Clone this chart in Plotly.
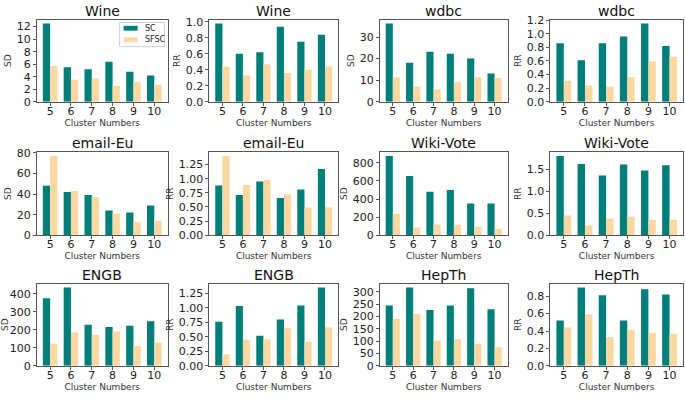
import plotly.graph_objects as go

clusters = ["5", "6", "7", "8", "9", "10"]
series_names = ["SC", "SFSC"]

wine_sd_sc = [12.5, 5.5, 5.2, 6.4, 4.8, 4.2]
wine_sd_sfsc = [5.7, 3.5, 3.7, 2.5, 3.1, 2.7]
wine_rr_sc = [0.98, 0.60, 0.62, 0.94, 0.75, 0.84]
wine_rr_sfsc = [0.44, 0.33, 0.47, 0.36, 0.40, 0.44]

wdbc_sd_sc = [36.3, 18.1, 23.2, 22.2, 20.0, 13.1]
wdbc_sd_sfsc = [11.4, 7.0, 5.7, 9.1, 11.4, 11.0]
wdbc_rr_sc = [0.86, 0.61, 0.86, 0.96, 1.15, 0.82]
wdbc_rr_sfsc = [0.31, 0.24, 0.22, 0.36, 0.59, 0.66]

email_sd_sc = [48, 42, 39, 24, 22, 29]
email_sd_sfsc = [77, 43, 37, 21, 13, 14]
email_rr_sc = [0.88, 0.71, 0.95, 0.66, 0.81, 1.17]
email_rr_sfsc = [1.40, 0.89, 0.98, 0.72, 0.49, 0.49]

wiki_sd_sc = [875, 655, 480, 500, 350, 350]
wiki_sd_sfsc = [235, 85, 120, 115, 95, 70]
wiki_rr_sc = [1.80, 1.62, 1.36, 1.61, 1.47, 1.59]
wiki_rr_sfsc = [0.45, 0.22, 0.38, 0.42, 0.35, 0.35]

engb_sd_sc = [375, 435, 228, 215, 222, 248]
engb_sd_sfsc = [123, 185, 173, 190, 110, 130]
engb_rr_sc = [0.76, 1.03, 0.52, 0.80, 1.04, 1.35]
engb_rr_sfsc = [0.20, 0.45, 0.46, 0.65, 0.41, 0.66]

hepth_sd_sc = [245, 318, 227, 245, 315, 230]
hepth_sd_sfsc = [190, 210, 103, 108, 90, 75]
hepth_rr_sc = [0.52, 0.90, 0.81, 0.52, 0.88, 0.82]
hepth_rr_sfsc = [0.44, 0.59, 0.33, 0.41, 0.38, 0.37]

panels = [
    ("Wine", "SD", wine_sd_sc, wine_sd_sfsc, 2, ".0f"),
    ("Wine", "RR", wine_rr_sc, wine_rr_sfsc, 0.2, ".1f"),
    ("wdbc", "SD", wdbc_sd_sc, wdbc_sd_sfsc, 10, ".0f"),
    ("wdbc", "RR", wdbc_rr_sc, wdbc_rr_sfsc, 0.2, ".1f"),
    ("email-Eu", "SD", email_sd_sc, email_sd_sfsc, 20, ".0f"),
    ("email-Eu", "RR", email_rr_sc, email_rr_sfsc, 0.25, ".2f"),
    ("Wiki-Vote", "SD", wiki_sd_sc, wiki_sd_sfsc, 200, ".0f"),
    ("Wiki-Vote", "RR", wiki_rr_sc, wiki_rr_sfsc, 0.5, ".1f"),
    ("ENGB", "SD", engb_sd_sc, engb_sd_sfsc, 100, ".0f"),
    ("ENGB", "RR", engb_rr_sc, engb_rr_sfsc, 0.25, ".2f"),
    ("HepTh", "SD", hepth_sd_sc, hepth_sd_sfsc, 50, ".0f"),
    ("HepTh", "RR", hepth_rr_sc, hepth_rr_sfsc, 0.2, ".1f"),
]

W, H = 685, 397
col_px = [(35, 166), (208, 337), (379, 507), (550, 683)]
row_px = [(14, 99), (151, 237), (287, 372)]

SC_COLOR = "#007f7a"
SFSC_COLOR = "#fbd7a1"
COLORS = [SC_COLOR, SFSC_COLOR]
FONT = "DejaVu Sans"

fig = go.Figure()
layout = dict(
    width=W, height=H,
    margin=dict(l=0, r=0, t=0, b=0),
    paper_bgcolor="white", plot_bgcolor="white",
    barmode="group", bargap=0.3, bargroupgap=0,
    font=dict(family=FONT, size=10, color="#222"),
    showlegend=False,
    annotations=[], shapes=[],
)

for i, (name, metric, sc, sfsc, dtick, fmt) in enumerate(panels):
    r, c = divmod(i, 4)
    k = "" if i == 0 else str(i + 1)
    xa, ya = "x" + k, "y" + k
    fig.add_trace(go.Bar(x=clusters, y=sc, name="SC", marker_color=SC_COLOR,
                         marker_line_width=0, xaxis=xa, yaxis=ya, offsetgroup="a"))
    fig.add_trace(go.Bar(x=clusters, y=sfsc, name="SFSC", marker_color=SFSC_COLOR,
                         marker_line_width=0, xaxis=xa, yaxis=ya, offsetgroup="b"))
    x0, x1 = col_px[c]
    y0, y1 = row_px[r]
    ymax = max(max(sc), max(sfsc)) * 1.05
    layout["xaxis" + k] = dict(
        domain=[x0 / W, x1 / W], anchor=ya, type="category",
        range=[-0.635, 5.635], showline=True, mirror=True, linecolor="#555",
        linewidth=1, ticks="outside", ticklen=3, tickcolor="#555",
        tickfont=dict(size=11, color="#222"), ticklabelstandoff=-4,
        title=dict(text="Cluster Numbers", font=dict(size=9, color="#333"), standoff=0),
        showgrid=False, fixedrange=True,
    )
    layout["yaxis" + k] = dict(
        domain=[1 - y1 / H, 1 - y0 / H], anchor=xa,
        range=[0, ymax], dtick=dtick, tick0=0, tickformat=fmt,
        showline=True, mirror=True, linecolor="#555", linewidth=1,
        ticks="outside", ticklen=3, tickcolor="#555",
        tickfont=dict(size=11, color="#222"),
        title=dict(text=metric, font=dict(size=9, color="#333"), standoff=3),
        showgrid=False, zeroline=False, fixedrange=True,
    )
    layout["annotations"].append(dict(
        text=name, x=(x0 + x1) / 2 / W, y=1 - y0 / H, xref="paper", yref="paper",
        xanchor="center", yanchor="bottom", showarrow=False, yshift=-1,
        font=dict(size=14, color="#111", family=FONT),
    ))

# compact matplotlib-style legend inside the first panel
lx0, lx1, ly0, ly1 = 118, 163, 17, 42
layout["shapes"].append(dict(
    type="rect", xref="paper", yref="paper",
    x0=lx0 / W, x1=lx1 / W, y0=1 - ly1 / H, y1=1 - ly0 / H,
    line=dict(color="#d0d0d0", width=1), fillcolor="rgba(255,255,255,0.85)", layer="above",
))
for j, (lab, col) in enumerate(zip(series_names, COLORS)):
    cy = 23 + j * 12
    layout["shapes"].append(dict(
        type="rect", xref="paper", yref="paper",
        x0=122 / W, x1=136 / W, y0=1 - (cy + 2.5) / H, y1=1 - (cy - 2.5) / H,
        line=dict(width=0), fillcolor=col, layer="above",
    ))
    layout["annotations"].append(dict(
        text=lab, x=141 / W, y=1 - cy / H, xref="paper", yref="paper",
        xanchor="left", yanchor="middle", showarrow=False,
        font=dict(size=8, color="#222", family=FONT),
    ))

fig.update_layout(**layout)
fig.write_html("out.html", config={"displayModeBar": False},
               post_script="document.body.style.margin='0';document.body.style.overflow='hidden';")
